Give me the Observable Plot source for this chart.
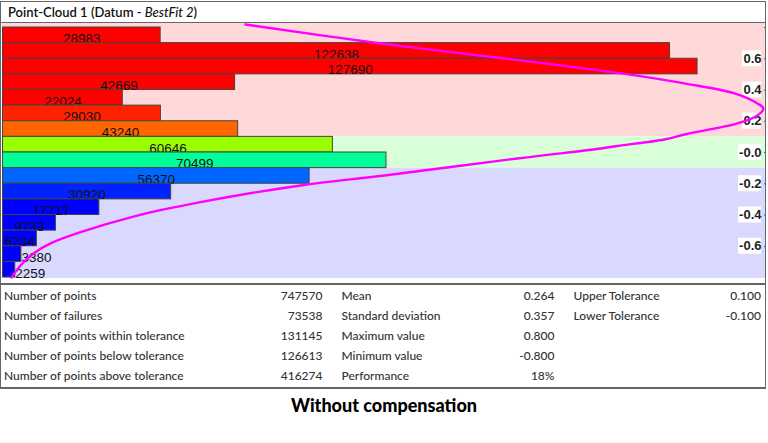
<!DOCTYPE html>
<html><head><meta charset="utf-8">
<script src="https://cdn.jsdelivr.net/npm/d3@7"></script>
<script src="https://cdn.jsdelivr.net/npm/@observablehq/plot@0.6"></script>
<style>
html,body{margin:0;padding:0;background:#fff;width:768px;height:443px;overflow:hidden}
#frame{position:absolute;left:0;top:1px;width:764px;height:385px;border:solid #666;border-width:1.5px 1.5px 2px 1.5px;box-sizing:content-box;background:#fff}
#title{height:19.5px;padding-left:7px;font:600 13px/20px Lato,sans-serif;color:#111;border-bottom:1.5px solid #666;box-sizing:content-box}
#title i{font-weight:500}
#chart svg{display:block;margin-left:-1.5px}
#chart{height:260px;overflow:visible}
#stats{border-top:2px solid #666;position:relative;height:103px;font:500 12px Lato,sans-serif;color:#333}
#stats span{position:absolute;white-space:nowrap;line-height:14px}
#caption{position:absolute;left:0;width:768px;top:394px;text-align:center;font:900 18px/22px Lato,sans-serif;color:#000}
</style></head><body>
<div id="frame">
  <div id="title">Point-Cloud 1 (Datum - <i>BestFit 2</i>)</div>
  <div id="chart"></div>
  <div id="stats"></div>
</div>
<div id="caption">Without compensation</div>
<script>
const counts = [28983,122638,127690,42669,22024,29030,43240,60646,70499,56370,30920,17717,9733,6234,3380,2259];
const binTops = [0.8,0.7,0.6,0.5,0.4,0.3,0.2,0.1,0.0,-0.1,-0.2,-0.3,-0.4,-0.5,-0.6,-0.7];
const binBottoms = [0.7,0.6,0.5,0.4,0.3,0.2,0.1,0.0,-0.1,-0.2,-0.3,-0.4,-0.5,-0.6,-0.7,-0.8];
const barColors = ["#ff0000","#ff0000","#ff0000","#ff0000","#ff0000","#ff2200","#ff6600","#99ff00","#00ff99","#0066ff","#0022ff","#0000ff","#0000ff","#0000ff","#0000ff","#0000ff"];
const curveCounts = [44580,68100,92190,113700,125280,134470,138700,139800,138700,135020,125280,121600,112960,109960,94570,70130,54690,36300,23990,14250,8730,5610,3220,1560];
const curveDevs = [0.819,0.704,0.602,0.506,0.442,0.378,0.314,0.282,0.237,0.186,0.115,0.083,0.042,0.026,-0.038,-0.147,-0.211,-0.318,-0.41,-0.51,-0.582,-0.646,-0.723,-0.80];
const bandTops = [0.826,0.1,-0.1];
const bandBottoms = [0.1,-0.1,-0.806];
const bandColors = ["#ffd9d9","#d9ffd9","#d9d9ff"];
const tickVals = [0.6,0.4,0.2,0,-0.2,-0.4,-0.6];
const tickLabels = ["0.6","0.4","0.2","-0.0","-0.2","-0.4","-0.6"];
const tickDots = [0.8,0.6,0.4,0.2,0,-0.2,-0.4,-0.6];
const xMax = 140000;

const col1Labels = ["Number of points","Number of failures","Number of points within tolerance","Number of points below tolerance","Number of points above tolerance"];
const col1Values = ["747570","73538","131145","126613","416274"];
const col2Labels = ["Mean","Standard deviation","Maximum value","Minimum value","Performance"];
const col2Values = ["0.264","0.357","0.800","-0.800","18%"];
const col3Labels = ["Upper Tolerance","Lower Tolerance"];
const col3Values = ["0.100","-0.100"];

const labelFont = {fontFamily:"Liberation Sans",fontSize:13.5,fill:"#111",lineAnchor:"bottom"};
const bars = counts.map((c,i)=>({c,top:binTops[i],bottom:binBottoms[i],color:barColors[i]}));
const narrow = d => d.c < 5000;

const marks = [
  Plot.rect(bandTops.map((t,i)=>({t,b:bandBottoms[i],f:bandColors[i]})),{x1:0,x2:xMax,y1:"t",y2:"b",fill:"f",insetRight:-1,insetLeft:-0.5})
];
bars.forEach(d=>{
  marks.push(Plot.rect([d],{x1:0,x2:"c",y1:"top",y2:"bottom",fill:"color",stroke:"#444",strokeWidth:1}));
  marks.push(Plot.text([d],{x:e=>narrow(e)?e.c:e.c/2,y:"bottom",text:e=>String(e.c),textAnchor:narrow(d)?"start":"middle",dy:0,...labelFont}));
});
const ticks = tickVals.map((v,i)=>({v,l:tickLabels[i]}));
const rectTick = (rows,left)=>Plot.rect(rows,{x1:xMax,x2:xMax,y1:"v",y2:"v",fill:"#fff",insetTop:-8,insetBottom:-8,insetLeft:left,insetRight:3});
marks.push(rectTick(ticks.filter(d=>d.l[0]!=="-"),-22));
marks.push(rectTick(ticks.filter(d=>d.l[0]==="-"),-26));
marks.push(Plot.text(ticks,{x:xMax,y:"v",text:"l",textAnchor:"end",dx:-3,fontFamily:"Liberation Sans",fontWeight:700,fontSize:13,fill:"#222"}));
marks.push(Plot.dot(tickDots,{x:()=>xMax,y:d=>d,r:0.6,fill:"#444"}));
marks.push(Plot.line(curveCounts.map((c,i)=>({c,d:curveDevs[i]})),{x:"c",y:"d",stroke:"#ff00ff",strokeWidth:2.4,curve:"catmull-rom"}));

const plot = Plot.plot({
  width:768,height:260,
  marginLeft:2.5,marginRight:4,marginTop:4,marginBottom:6,
  style:{maxWidth:"none",background:"transparent"},
  x:{domain:[0,xMax],axis:null},
  y:{domain:[-0.8,0.8],axis:null},
  marks
});
document.getElementById("chart").append(plot);

const stats = document.getElementById("stats");
const rowY = [5.5,25.5,45.5,65.5,85.5];
function place(text,i,side,pos){
  const s=document.createElement("span");
  s.textContent=text;
  s.style.top=(rowY[i]-1)+"px";
  if(side==="l") s.style.left=pos+"px"; else s.style.right=(764-pos)+"px";
  stats.append(s);
}
col1Labels.forEach((t,i)=>place(t,i,"l",3));
col1Values.forEach((t,i)=>place(t,i,"r",321.5));
col2Labels.forEach((t,i)=>place(t,i,"l",340.5));
col2Values.forEach((t,i)=>place(t,i,"r",553.5));
col3Labels.forEach((t,i)=>place(t,i,"l",572.5));
col3Values.forEach((t,i)=>place(t,i,"r",760));
</script>
</body></html>
